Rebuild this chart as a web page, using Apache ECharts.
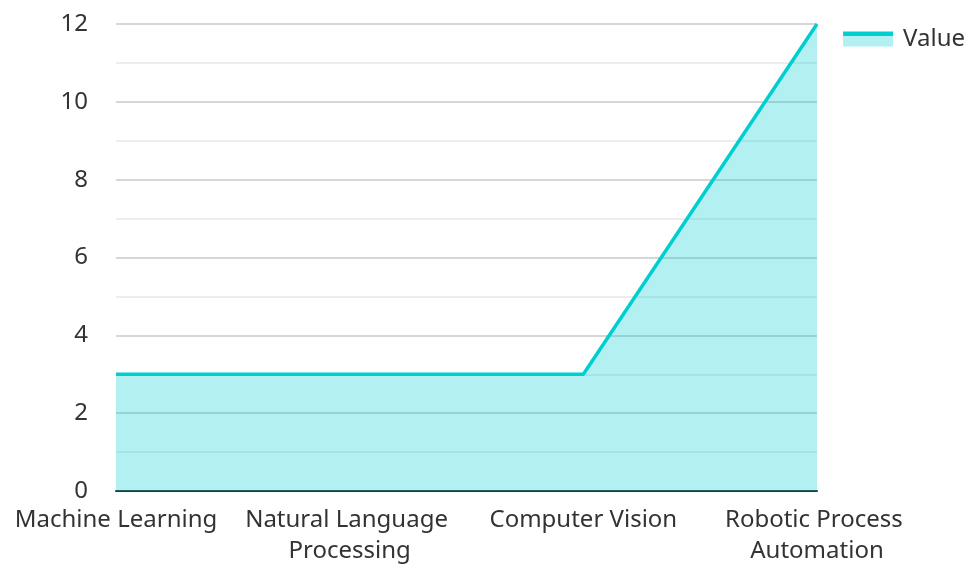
<!DOCTYPE html>
<html>
<head>
<meta charset="utf-8">
<script src="https://cdn.jsdelivr.net/npm/echarts@6/dist/echarts.min.js"></script>
<style>
  html, body { margin: 0; padding: 0; background: #fff; }
  #chart { width: 966px; height: 566px; }
</style>
</head>
<body>
<div id="chart"></div>
<script>
const categories = ['Machine Learning', 'Natural Language Processing', 'Computer Vision', 'Robotic Process Automation'];
const values = [3, 3, 3, 12];
const seriesName = 'Value';

const textColor = '#333';
const lineColor = '#00CED1';
const fillColor = '#b2f0f1';
const fontFamily = '"Noto Sans", sans-serif';

const chart = echarts.init(document.getElementById('chart'), null, { renderer: 'canvas' });

chart.setOption({
    animation: false,
    backgroundColor: '#fff',
    textStyle: { fontFamily },
    legend: {
        data: [seriesName],
        right: 1,
        top: 27,
        padding: 0,
        itemWidth: 50,
        itemHeight: 15,
        icon: 'rect',
        itemStyle: {
            // line on top, light fill below, like an area swatch
            color: new echarts.graphic.LinearGradient(0, 0, 0, 1, [
                { offset: 0, color: lineColor },
                { offset: 0.27, color: lineColor },
                { offset: 0.27, color: fillColor },
                { offset: 1, color: fillColor },
            ]),
        },
        textStyle: { fontSize: 24, color: textColor, fontFamily, padding: [0, 0, 0, 5] },
    },
    grid: {
        left: 116,
        right: 149,
        top: 24,
        bottom: 75,
        containLabel: false,
        outerBoundsMode: 'none',
    },
    xAxis: {
        type: 'category',
        data: categories,
        boundaryGap: false,
        axisLine: { show: true, lineStyle: { color: '#333', width: 2 } },
        axisTick: { show: false },
        axisLabel: {
            color: textColor,
            fontSize: 24,
            fontFamily,
            margin: 14,
            lineHeight: 31,
            width: 240,
            overflow: 'break',
            interval: 0,
        },
        splitLine: { show: false },
    },
    yAxis: {
        type: 'value',
        min: 0,
        max: 12,
        interval: 2,
        axisLine: { show: false },
        axisTick: { show: false },
        axisLabel: { color: textColor, fontSize: 24, fontFamily, margin: 28 },
        splitLine: { show: true, lineStyle: { color: '#c8c8c8', width: 1.5 } },
        minorTick: { show: false, splitNumber: 2 },
        minorSplitLine: { show: true, lineStyle: { color: '#e8e8e8', width: 1.5 } },
    },
    series: [
        {
            name: seriesName,
            type: 'line',
            data: values,
            symbol: 'none',
            lineStyle: { color: lineColor, width: 3.5 },
            itemStyle: { color: lineColor },
            areaStyle: { color: lineColor, opacity: 0.3 },
        },
    ],
});
</script>
</body>
</html>
